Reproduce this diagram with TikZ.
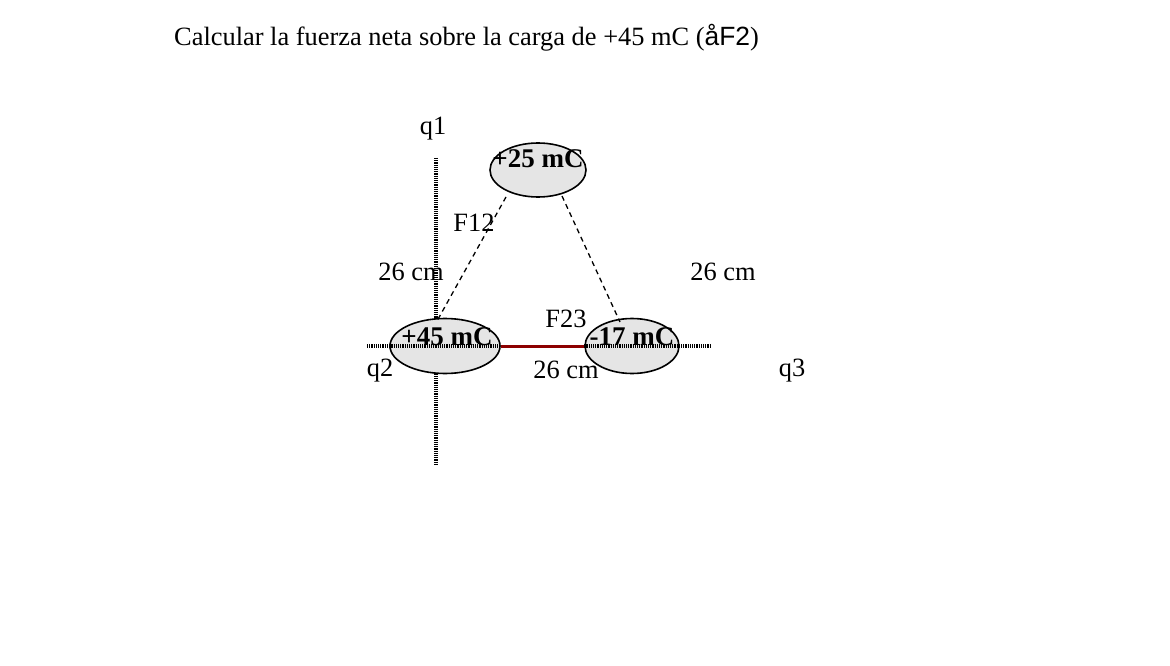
\documentclass[tikz,border=0pt]{standalone}
\usepackage{fontspec}
\setmainfont{Liberation Serif}
\newfontfamily\arialf{Liberation Sans}
\usetikzlibrary{shapes.geometric}
\tikzset{
  charge/.style={ellipse, draw=black, line width=1.6pt, fill=gray!20, inner sep=0pt},
  qlabel/.style={font=\fontsize{27}{30}\selectfont\bfseries, inner sep=0pt},
  lbl/.style={font=\fontsize{26.4}{30}\selectfont, inner sep=0pt},
  axis/.style={line width=3.2pt, dash pattern=on 1.2pt off 1pt},
  link/.style={line width=1.3pt, dash pattern=on 5pt off 4pt},
}
\begin{document}
\begin{tikzpicture}[x=1pt,y=-1pt]
\useasboundingbox (0,0) rectangle (1170,666);
% title
\node[lbl, anchor=base west] (title) at (174,46) {Calcular la fuerza neta sobre la carga de +45 mC ({\arialf åF2})};
% vertical axis (behind ellipses)
\coordinate (vtop) at (436,158);
\coordinate (vbot) at (436,465);
\draw[axis] (vtop) -- (vbot);
% charges
\node[charge, minimum width=96pt, minimum height=54pt] (q1) at (538,170) {};
\node[charge, minimum width=110pt, minimum height=55pt] (q2) at (445,346) {};
\node[charge, minimum width=94pt, minimum height=55pt] (q3) at (632,346) {};
% horizontal axis (over ellipses)
\coordinate (hl) at (367,346);
\coordinate (hr) at (710,346);
\draw[axis] (hl) -- (q2.west);
\draw[axis] (q2.west) -- (q2.east);
\draw[axis] (q3.west) -- (hr);
\draw[line width=3pt, draw=red!55!black] (q2.east) -- (q3.west);
% dashed links
\coordinate (a1) at (506,197);
\coordinate (a2) at (437,321);
\coordinate (b1) at (562,196);
\coordinate (b2) at (620,322);
\draw[link] (a1) -- (a2);
\draw[link] (b1) -- (b2);
% charge labels
\node[qlabel] (l1) at (538,159) {+25 mC};
\node[qlabel] (l2) at (447,337) {+45 mC};
\node[qlabel] (l3) at (632,337) {-17 mC};
% other labels
\node[lbl] (tq1) at (433,129) {q1};
\node[lbl] (tf12) at (474,223) {F12};
\node[lbl] (td1) at (411,272) {26 cm};
\node[lbl] (td2) at (723,272) {26 cm};
\node[lbl] (tf23) at (566,319) {F23};
\node[lbl] (tq2) at (380,371) {q2};
\node[lbl] (td3) at (566,370) {26 cm};
\node[lbl] (tq3) at (792,371) {q3};
\end{tikzpicture}
\end{document}
